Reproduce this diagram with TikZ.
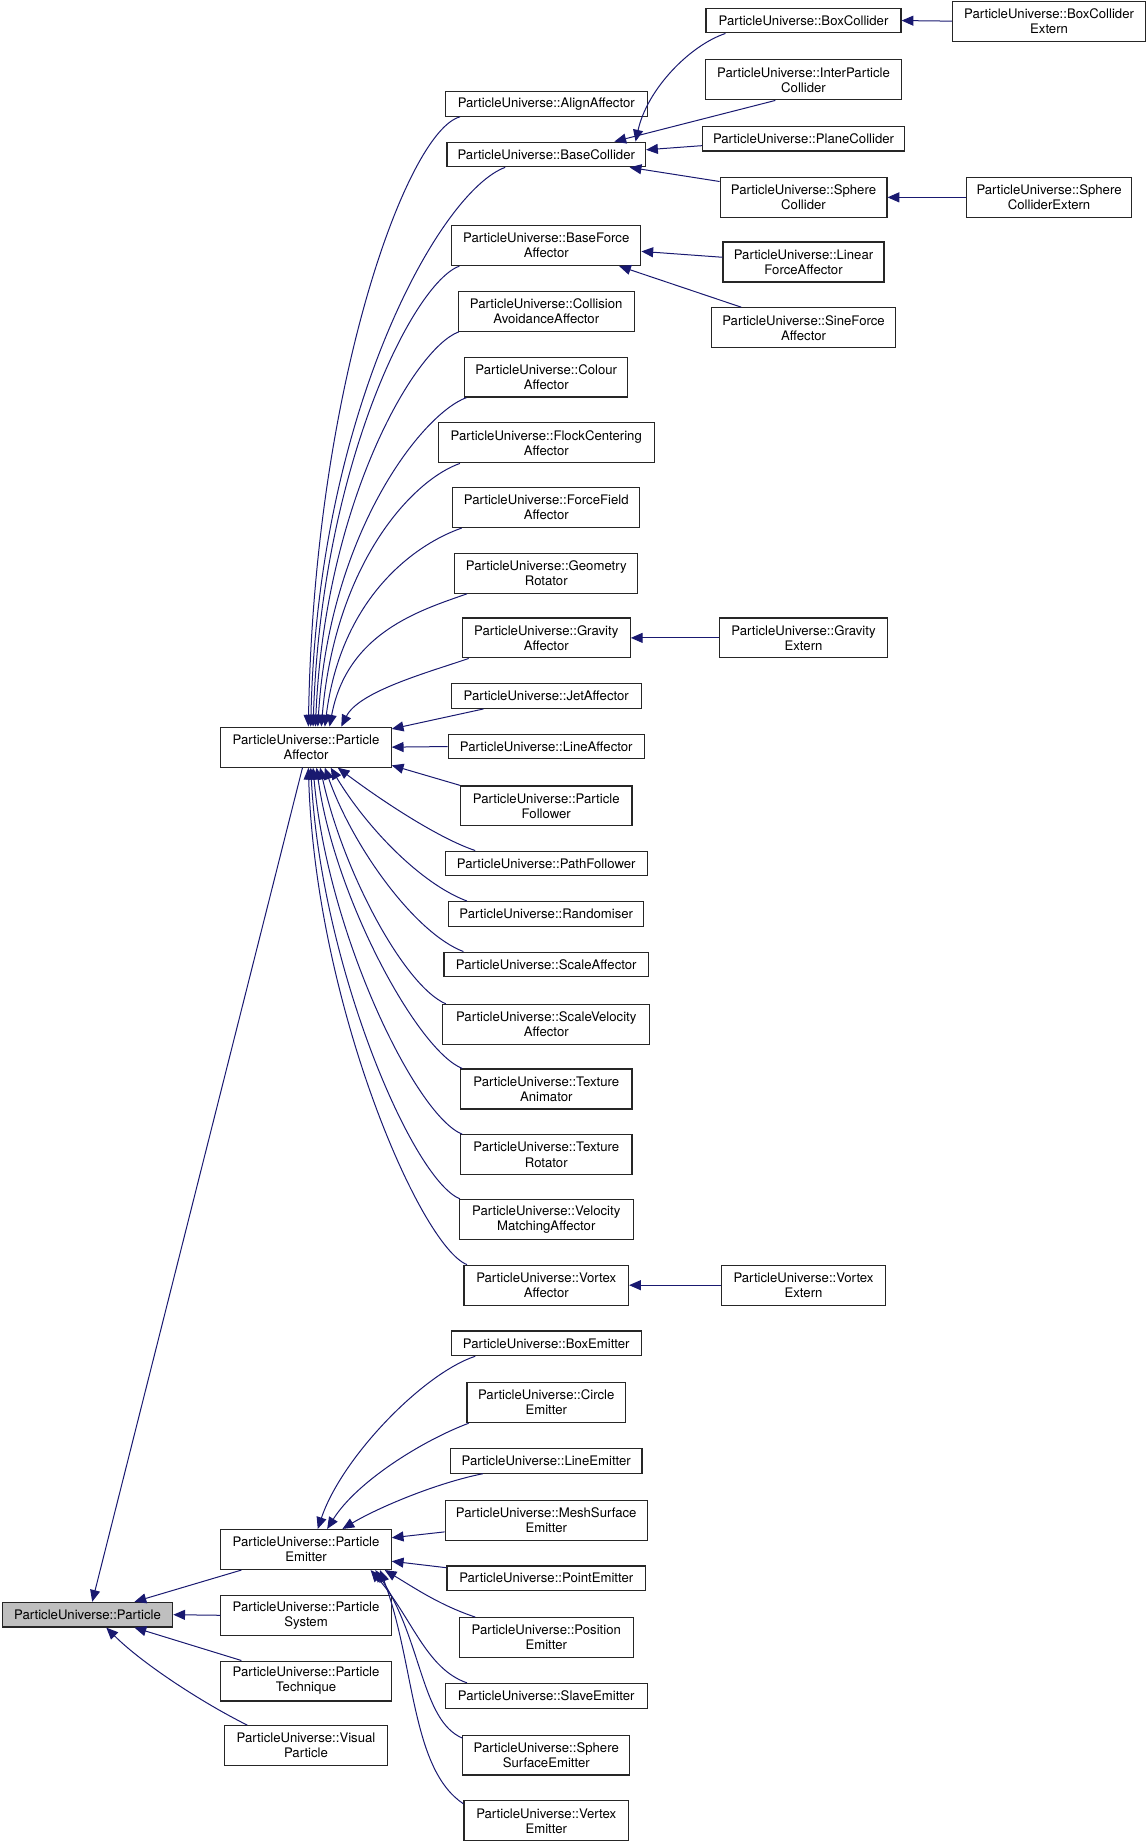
\documentclass[tikz,border=0pt]{standalone}
\usepackage{fontspec}
\setmainfont{TeX Gyre Heros}
\usetikzlibrary{arrows.meta}
\definecolor{edgeblue}{RGB}{25,25,112}
\definecolor{rootgray}{RGB}{191,191,191}
\tikzset{
  cls/.style={draw=black!85, line width=1pt, fill=white, inner sep=0pt, align=center,
    minimum height=21pt, font=\fontsize{11.2}{12.8}\selectfont},
  clstwo/.style={cls, minimum height=34pt},
  inh/.style={draw=edgeblue, line width=0.85pt, -{Triangle[length=10pt,width=8.5pt]}}
}
\begin{document}
\begin{tikzpicture}[x=1pt, y=-1pt]
    \useasboundingbox (0,0) rectangle (976,1568);

    % base class and direct children
    \node[cls, fill=rootgray, minimum width=145pt] (root) at (74.5,1374.5) {ParticleUniverse::Particle};
    \node[clstwo, minimum width=145pt] (pa) at (260.5,636) {ParticleUniverse::Particle\\Affector};
    \node[clstwo, minimum width=145pt] (pe) at (260.5,1319) {ParticleUniverse::Particle\\Emitter};
    \node[clstwo, minimum width=145pt] (ps) at (260.5,1375) {ParticleUniverse::Particle\\System};
    \node[clstwo, minimum width=145pt] (pt) at (260.5,1431) {ParticleUniverse::Particle\\Technique};
    \node[clstwo, minimum width=139pt] (vp) at (260.5,1486) {ParticleUniverse::Visual\\Particle};

    % affectors
    \node[cls, minimum width=172pt] (align) at (465,88.5) {ParticleUniverse::AlignAffector};
    \node[cls, minimum width=169pt] (basecol) at (465,131.5) {ParticleUniverse::BaseCollider};
    \node[clstwo, minimum width=161pt] (baseforce) at (465,209) {ParticleUniverse::BaseForce\\Affector};
    \node[clstwo, minimum width=150pt] (collision) at (465,265) {ParticleUniverse::Collision\\AvoidanceAffector};
    \node[clstwo, minimum width=139pt] (colour) at (465,321) {ParticleUniverse::Colour\\Affector};
    \node[clstwo, minimum width=184pt] (flock) at (465,377) {ParticleUniverse::FlockCentering\\Affector};
    \node[clstwo, minimum width=159pt] (forcefield) at (465,432) {ParticleUniverse::ForceField\\Affector};
    \node[clstwo, minimum width=156pt] (geometry) at (465,488) {ParticleUniverse::Geometry\\Rotator};
    \node[clstwo, minimum width=143pt] (gravity) at (465,543) {ParticleUniverse::Gravity\\Affector};
    \node[cls, minimum width=162pt] (jet) at (465,592.5) {ParticleUniverse::JetAffector};
    \node[cls, minimum width=167pt] (line) at (465,635.5) {ParticleUniverse::LineAffector};
    \node[clstwo, minimum width=146pt] (follower) at (465,686) {ParticleUniverse::Particle\\Follower};
    \node[cls, minimum width=172pt] (path) at (465,735) {ParticleUniverse::PathFollower};
    \node[cls, minimum width=166pt] (random) at (465,778) {ParticleUniverse::Randomiser};
    \node[cls, minimum width=174pt] (scale) at (465,821) {ParticleUniverse::ScaleAffector};
    \node[clstwo, minimum width=176pt] (scalevel) at (465,872) {ParticleUniverse::ScaleVelocity\\Affector};
    \node[clstwo, minimum width=146pt] (texanim) at (465,927) {ParticleUniverse::Texture\\Animator};
    \node[clstwo, minimum width=146pt] (texrot) at (465,983) {ParticleUniverse::Texture\\Rotator};
    \node[clstwo, minimum width=148pt] (velocity) at (465,1038) {ParticleUniverse::Velocity\\MatchingAffector};
    \node[clstwo, minimum width=140pt] (vortex) at (465,1094) {ParticleUniverse::Vortex\\Affector};

    % emitters
    \node[cls, minimum width=162pt] (boxem) at (465,1143.5) {ParticleUniverse::BoxEmitter};
    \node[clstwo, minimum width=135pt] (circle) at (465,1194) {ParticleUniverse::Circle\\Emitter};
    \node[cls, minimum width=163pt] (lineem) at (465,1243.5) {ParticleUniverse::LineEmitter};
    \node[clstwo, minimum width=172pt] (mesh) at (465,1294) {ParticleUniverse::MeshSurface\\Emitter};
    \node[cls, minimum width=169pt] (point) at (465,1343.5) {ParticleUniverse::PointEmitter};
    \node[clstwo, minimum width=148pt] (position) at (465,1394) {ParticleUniverse::Position\\Emitter};
    \node[cls, minimum width=172pt] (slave) at (465,1443.5) {ParticleUniverse::SlaveEmitter};
    \node[clstwo, minimum width=142pt] (spheresurf) at (465,1494) {ParticleUniverse::Sphere\\SurfaceEmitter};
    \node[clstwo, minimum width=140pt] (vertex) at (465,1550) {ParticleUniverse::Vertex\\Emitter};

    % third and fourth level
    \node[cls, minimum width=166pt] (boxcol) at (684,17.5) {ParticleUniverse::BoxCollider};
    \node[clstwo, minimum width=167pt] (inter) at (684,68) {ParticleUniverse::InterParticle\\Collider};
    \node[cls, minimum width=172pt] (plane) at (684,118) {ParticleUniverse::PlaneCollider};
    \node[clstwo, minimum width=142pt] (spherecol) at (684,168) {ParticleUniverse::Sphere\\Collider};
    \node[clstwo, minimum width=137pt] (linear) at (684,223) {ParticleUniverse::Linear\\ForceAffector};
    \node[clstwo, minimum width=157pt] (sine) at (684,279) {ParticleUniverse::SineForce\\Affector};
    \node[clstwo, minimum width=143pt] (gravext) at (684,543) {ParticleUniverse::Gravity\\Extern};
    \node[clstwo, minimum width=139pt] (vortext) at (684,1094) {ParticleUniverse::Vortex\\Extern};
    \node[clstwo, minimum width=164pt] (boxext) at (893,18) {ParticleUniverse::BoxCollider\\Extern};
    \node[clstwo, minimum width=141pt] (sphereext) at (893,168) {ParticleUniverse::Sphere\\ColliderExtern};

    % edges into the particle
    \draw[inh] ([xshift=-3pt]pa.south) -- ([xshift=4pt]root.north);
    \draw[inh] ([xshift=-55pt]pe.south) -- ([xshift=40pt]root.north);
    \draw[inh] (ps.west) -- (root.east);
    \draw[inh] ([xshift=-55pt]pt.north) -- ([xshift=40pt]root.south);
    \draw[inh] ([xshift=-50pt]vp.north) .. controls +(-40,-20) and +(30,30) .. ([xshift=16pt]root.south);

    % affectors into the particle affector
    \draw[inh] ([xshift=13pt]align.south west) .. controls +(-45,12) and +(5,-290) .. ([xshift=2pt]pa.north);
    \draw[inh] ([xshift=50pt]basecol.south west) .. controls +(-55,20) and +(6,-270) .. ([xshift=4pt]pa.north);
    \draw[inh] ([xshift=7pt]baseforce.south west) .. controls +(-40,15) and +(7,-220) .. ([xshift=6pt]pa.north);
    \draw[inh] ([xshift=1pt]collision.south west) .. controls +(-38,14) and +(8,-190) .. ([xshift=8pt]pa.north);
    \draw[inh] ([xshift=2pt]colour.south west) .. controls +(-38,14) and +(10,-165) .. ([xshift=10pt]pa.north);
    \draw[inh] ([xshift=19pt]flock.south west) .. controls +(-40,14) and +(12,-140) .. ([xshift=13pt]pa.north);
    \draw[inh] ([xshift=8pt]forcefield.south west) .. controls +(-40,14) and +(14,-110) .. ([xshift=16pt]pa.north);
    \draw[inh] ([xshift=11pt]geometry.south west) .. controls +(-40,14) and +(15,-80) .. ([xshift=20pt]pa.north);
    \draw[inh] ([xshift=6pt]gravity.south west) .. controls +(-35,12) and +(15,-30) .. ([xshift=30pt]pa.north);
    \draw[inh] ([xshift=28pt]jet.south west) -- ([yshift=-2pt]pa.north east);
    \draw[inh] (line.west) -- (pa.east);
    \draw[inh] (follower.north west) -- ([yshift=2pt]pa.south east);
    \draw[inh] ([xshift=26pt]path.north west) .. controls +(-30,-10) and +(40,30) .. ([xshift=27pt]pa.south);
    \draw[inh] ([xshift=16pt]random.north west) .. controls +(-40,-15) and +(30,50) .. ([xshift=21pt]pa.south);
    \draw[inh] ([xshift=17pt]scale.north west) .. controls +(-40,-15) and +(25,70) .. ([xshift=16pt]pa.south);
    \draw[inh] ([xshift=3pt]scalevel.north west) .. controls +(-35,-15) and +(20,90) .. ([xshift=12pt]pa.south);
    \draw[inh] ([xshift=2pt]texanim.north west) .. controls +(-38,-15) and +(15,110) .. ([xshift=9pt]pa.south);
    \draw[inh] ([xshift=2pt]texrot.north west) .. controls +(-40,-16) and +(12,140) .. ([xshift=6pt]pa.south);
    \draw[inh] ([xshift=1pt]velocity.north west) .. controls +(-40,-16) and +(9,170) .. ([xshift=4pt]pa.south);
    \draw[inh] ([xshift=3pt]vortex.north west) .. controls +(-40,-16) and +(6,200) .. ([xshift=2pt]pa.south);

    % colliders and force affectors
    \draw[inh] ([xshift=17pt]boxcol.south west) .. controls +(-30,10) and +(10,-45) .. ([xshift=-9pt]basecol.north east);
    \draw[inh] ([xshift=60pt]inter.south west) -- ([xshift=-27pt]basecol.north east);
    \draw[inh] ([yshift=-6pt]plane.west) -- ([yshift=4pt]basecol.east);
    \draw[inh] ([yshift=-4pt]spherecol.north west) -- ([xshift=-14pt]basecol.south east);
    \draw[inh] (boxext.west) -- (boxcol.east);
    \draw[inh] (sphereext.west) -- (spherecol.east);
    \draw[inh] ([yshift=4pt]linear.west) -- ([yshift=-5pt]baseforce.east);
    \draw[inh] ([xshift=26pt]sine.north west) -- ([xshift=-19pt]baseforce.south east);
    \draw[inh] (gravext.west) -- (gravity.east);
    \draw[inh] (vortext.west) -- (vortex.east);

    % emitters into the particle emitter
    \draw[inh] ([xshift=21pt]boxem.south west) .. controls +(-45,15) and +(20,-60) .. ([xshift=10pt]pe.north);
    \draw[inh] ([xshift=2pt]circle.south west) .. controls +(-40,15) and +(25,-40) .. ([xshift=18pt]pe.north);
    \draw[inh] ([xshift=28pt]lineem.south west) .. controls +(-40,8) and +(30,-18) .. ([xshift=31pt]pe.north);
    \draw[inh] ([yshift=-10pt]mesh.west) -- ([yshift=10pt]pe.east);
    \draw[inh] ([yshift=9pt]point.west) -- ([yshift=-10pt]pe.east);
    \draw[inh] ([xshift=14pt]position.north west) .. controls +(-30,-10) and +(25,15) .. ([xshift=-6pt]pe.south east);
    \draw[inh] ([xshift=19pt]slave.north west) .. controls +(-35,-12) and +(35,40) .. ([xshift=-18pt]pe.south east);
    \draw[inh] ([yshift=-3pt]spheresurf.north west) .. controls +(-35,-15) and +(40,60) .. ([xshift=-14pt]pe.south east);
    \draw[inh] ([yshift=-3pt]vertex.north west) .. controls +(-45,-30) and +(30,80) .. ([xshift=-10pt]pe.south east);
\end{tikzpicture}
\end{document}
